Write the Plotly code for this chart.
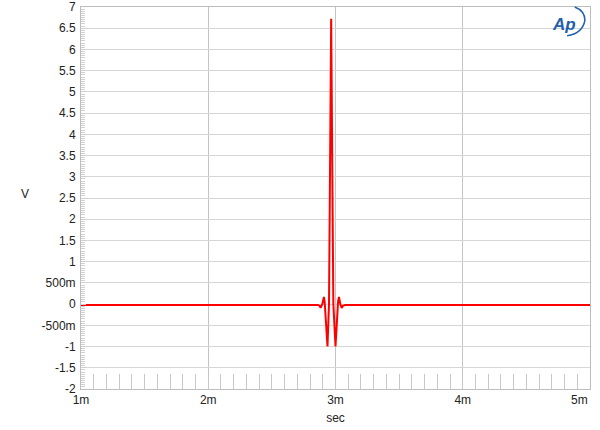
import plotly.graph_objects as go

# time in ms, voltage in V
t_ms = [1.000, 2.000, 2.860, 2.875, 2.883, 2.896, 2.909, 2.915, 2.937, 2.949,
        2.966, 2.983, 3.000, 3.020, 3.027, 3.038, 3.049, 3.058, 3.075, 4.000, 5.000]
volts = [-0.02, -0.02, -0.02, -0.04, -0.09, 0.0, 0.17, 0.05, -1.0, 0.0,
         6.72, 0.0, -1.0, 0.05, 0.17, 0.0, -0.09, -0.04, -0.02, -0.02, -0.02]

x_tickvals_ms = [1, 2, 3, 4]
x_ticktext = ["1m", "2m", "3m", "4m"]
x_last_label = "5m"
y_tickvals = [7, 6.5, 6, 5.5, 5, 4.5, 4, 3.5, 3, 2.5, 2, 1.5, 1, 0.5, 0, -0.5, -1, -1.5, -2]
y_ticktext = ["7", "6.5", "6", "5.5", "5", "4.5", "4", "3.5", "3", "2.5", "2", "1.5", "1",
              "500m", "0", "-500m", "-1", "-1.5", "-2"]

t_s = [v * 1e-3 for v in t_ms]

fig = go.Figure()
fig.add_trace(go.Scatter(x=t_s, y=volts, mode="lines",
                         line=dict(color="#ff0000", width=2), hoverinfo="skip"))

font = dict(family="Liberation Sans, Arial, sans-serif", size=12, color="#222222")

fig.update_layout(
    width=600, height=430,
    margin=dict(l=81, r=10, t=7, b=41),
    paper_bgcolor="white", plot_bgcolor="white",
    showlegend=False, font=font,
    xaxis=dict(
        range=[1e-3, 5e-3], automargin=False,
        tickvals=[v * 1e-3 for v in x_tickvals_ms], ticktext=x_ticktext,
        showgrid=True, gridcolor="#c4c4c4", gridwidth=1,
        ticks="inside", ticklen=15, tickcolor="#c8c8c8",
        minor=dict(dtick=0.1e-3, ticks="inside", ticklen=15, tickcolor="#c8c8c8", showgrid=False),
        showline=True, linecolor="#bdbdbd", linewidth=1, mirror=True,
        zeroline=False,
        title=dict(text="sec", font=font, standoff=7),
        tickfont=font,
    ),
    yaxis=dict(
        range=[-2, 7], automargin=False,
        tickvals=y_tickvals, ticktext=y_ticktext,
        showgrid=True, gridcolor="#d6d6d6", gridwidth=1,
        ticks="inside", ticklen=5, tickcolor="#cfcfcf",
        minor=dict(dtick=0.05, ticks="inside", ticklen=4, tickcolor="#d0d0d0", showgrid=False),
        showline=True, linecolor="#bdbdbd", linewidth=1, mirror=True,
        zeroline=False,
        tickfont=font,
        ticklabelstandoff=2,
    ),
    annotations=[
        dict(text="V", x=-0.11, y=0.51, xref="paper", yref="paper", showarrow=False,
             xanchor="center", yanchor="middle", font=font),
        dict(text=x_last_label, x=1.0, y=0, xref="paper", yref="paper", showarrow=False,
             xanchor="right", yanchor="top", yshift=-2, font=font),
        dict(text="<b><i>Ap</i></b>", xref="paper", yref="paper", x=0.948, y=0.985,
             xanchor="center", yanchor="top", showarrow=False,
             font=dict(family="Liberation Sans, Arial, sans-serif", size=17, color="#1f5fae")),
    ],
)

fig.add_shape(type="path", xref="paper", yref="paper",
              path="M 0.955,0.925 Q 0.985,0.93 0.99,0.965 Q 0.99,0.99 0.97,1.0",
              line=dict(color="#1f5fae", width=1.5))

fig.write_html("out.html", config={"displayModeBar": False},
               post_script="document.body.style.margin='0';")
